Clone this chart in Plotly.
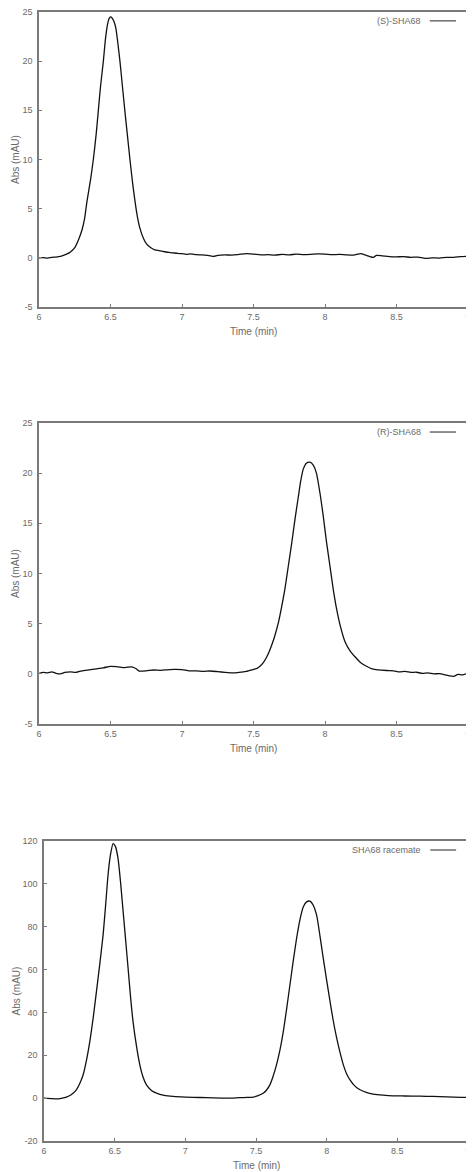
import plotly.graph_objects as go

# ---- data ----
s_time = [6.00, 6.03, 6.06, 6.09, 6.12, 6.15, 6.18, 6.20, 6.22, 6.25, 6.275, 6.30, 6.32, 6.335, 6.36, 6.38,
          6.40, 6.415, 6.43, 6.45, 6.465, 6.48, 6.493, 6.503, 6.515, 6.525, 6.538, 6.55, 6.566, 6.583, 6.60,
          6.618, 6.636, 6.653, 6.671, 6.688, 6.706, 6.73, 6.753, 6.78, 6.81, 6.85, 6.88, 6.91, 6.94, 6.97,
          7.00, 7.03, 7.06, 7.10, 7.13, 7.16, 7.20, 7.22, 7.25, 7.30, 7.35, 7.40, 7.45, 7.50, 7.55, 7.60,
          7.65, 7.70, 7.75, 7.80, 7.85, 7.90, 7.95, 8.00, 8.05, 8.10, 8.15, 8.20, 8.25, 8.28, 8.31, 8.34,
          8.36, 8.40, 8.45, 8.50, 8.55, 8.60, 8.65, 8.70, 8.75, 8.80, 8.85, 8.90, 8.95, 9.00]
s_abs = [0.00, 0.02, -0.02, 0.05, 0.08, 0.15, 0.30, 0.42, 0.60, 1.05, 1.8, 2.8, 4.1, 5.7, 7.9, 10.0,
         12.6, 15.0, 17.4, 20.0, 22.3, 23.8, 24.4, 24.5, 24.3, 24.0, 23.3, 22.0, 20.0, 17.5, 15.0,
         12.5, 10.0, 7.8, 5.8, 4.2, 3.0, 2.0, 1.4, 1.05, 0.8, 0.7, 0.62, 0.55, 0.5, 0.45,
         0.42, 0.35, 0.4, 0.32, 0.3, 0.28, 0.2, 0.15, 0.25, 0.3, 0.28, 0.35, 0.42, 0.38, 0.3, 0.32,
         0.28, 0.35, 0.3, 0.38, 0.32, 0.35, 0.4, 0.38, 0.32, 0.35, 0.3, 0.28, 0.42, 0.3, 0.15, 0.05,
         0.25, 0.2, 0.12, 0.1, 0.12, 0.05, 0.08, -0.05, 0.0, -0.02, 0.05, 0.05, 0.12, 0.15]

r_time = [6.00, 6.03, 6.06, 6.09, 6.12, 6.15, 6.18, 6.22, 6.26, 6.30, 6.35, 6.40, 6.45, 6.50, 6.55, 6.60,
          6.65, 6.68, 6.70, 6.75, 6.80, 6.85, 6.90, 6.95, 7.00, 7.05, 7.10, 7.15, 7.20, 7.25, 7.30, 7.35,
          7.40, 7.45, 7.50, 7.525, 7.545, 7.57, 7.595, 7.615, 7.645, 7.674, 7.697, 7.72, 7.743, 7.767,
          7.79, 7.813, 7.83, 7.848, 7.87, 7.895, 7.918, 7.94, 7.965, 7.988, 8.01, 8.035, 8.058, 8.082,
          8.11, 8.14, 8.175, 8.21, 8.25, 8.29, 8.33, 8.37, 8.43, 8.48, 8.52, 8.56, 8.60, 8.64, 8.68,
          8.72, 8.76, 8.80, 8.84, 8.87, 8.90, 8.93, 8.96, 9.00]
r_abs = [0.05, 0.15, 0.1, 0.2, 0.05, 0.0, 0.15, 0.2, 0.15, 0.3, 0.4, 0.5, 0.6, 0.75, 0.7, 0.62,
         0.7, 0.5, 0.28, 0.3, 0.38, 0.35, 0.4, 0.45, 0.42, 0.3, 0.3, 0.25, 0.28, 0.22, 0.15, 0.1,
         0.15, 0.25, 0.45, 0.55, 0.76, 1.15, 1.75, 2.4, 3.6, 5.1, 6.7, 8.5, 10.7, 13.0,
         15.4, 17.6, 19.2, 20.4, 21.0, 21.1, 20.8, 20.0, 18.0, 15.7, 13.2, 10.7, 8.4, 6.4,
         4.6, 3.2, 2.3, 1.7, 1.1, 0.76, 0.5, 0.4, 0.33, 0.3, 0.2, 0.25, 0.15, 0.16, 0.05,
         0.1, 0.0, 0.02, -0.1, -0.2, -0.25, -0.05, -0.1, 0.05]

rac_time = [6.00, 6.05, 6.10, 6.13, 6.158, 6.19, 6.229, 6.253, 6.277, 6.30, 6.324, 6.348, 6.371, 6.395,
            6.418, 6.436, 6.453, 6.47, 6.489, 6.505, 6.524, 6.542, 6.56, 6.578, 6.595, 6.612, 6.63,
            6.655, 6.678, 6.70, 6.725, 6.76, 6.796, 6.85, 6.914, 7.00, 7.103, 7.20, 7.292, 7.38, 7.44,
            7.48, 7.515, 7.551, 7.575, 7.598, 7.62, 7.645, 7.67, 7.693, 7.717, 7.74, 7.763, 7.787, 7.81,
            7.835, 7.858, 7.882, 7.905, 7.929, 7.952, 7.976, 8.00, 8.024, 8.047, 8.071, 8.095, 8.118,
            8.14, 8.165, 8.20, 8.236, 8.28, 8.33, 8.40, 8.47, 8.55, 8.66, 8.75, 8.85, 8.95, 9.00]
rac_abs = [0.0, -0.2, -0.3, 0.0, 0.5, 1.5, 3.9, 6.8, 10.9, 17.5, 26.4, 37.5, 49.7, 62.8,
           76.1, 90.0, 104.0, 113.5, 118.8, 117.5, 111.8, 100.5, 87.0, 73.5, 60.6, 47.5, 35.7,
           24.0, 15.5, 10.0, 6.2, 3.6, 2.3, 1.3, 0.8, 0.5, 0.3, 0.1, 0.0, 0.2, 0.35,
           0.5, 1.2, 2.3, 3.8, 6.2, 10.0, 15.5, 22.6, 31.0, 41.8, 52.8, 63.8, 74.5, 83.0,
           89.3, 91.6, 91.9, 90.0, 85.4, 76.0, 65.2, 55.0, 45.0, 36.0, 28.0, 21.2, 15.5,
           11.5, 8.5, 5.6, 3.9, 2.7, 1.9, 1.4, 1.1, 1.0, 0.9, 0.8, 0.6, 0.4, 0.3]

series_names = ["(S)-SHA68", "(R)-SHA68", "SHA68 racemate"]
x_ticks = [6, 6.5, 7, 7.5, 8, 8.5, 9]
y_ticks_12 = [-5, 0, 5, 10, 15, 20, 25]
y_ticks_3 = [-20, 0, 20, 40, 60, 80, 100, 120]

# ---- layout geometry (window pixels) ----
# The page body has an 8px default margin, so the figure is drawn 8px in from the
# window's top-left corner; size the figure to end exactly at the window edge.
OFF = 8
W, H = 474 - OFF, 1172 - OFF
panels = [
    dict(x0=39, x1=468, y0=12, y1=307, yr=[-5, 25], yt=y_ticks_12),
    dict(x0=39, x1=468, y0=423, y1=724, yr=[-5, 25], yt=y_ticks_12),
    dict(x0=44, x1=468, y0=841, y1=1141, yr=[-20, 120], yt=y_ticks_3),
]
data = [(s_time, s_abs), (r_time, r_abs), (rac_time, rac_abs)]

GRAY = "#7a7a7a"
TXT = "#6a6a6a"
FONT = "Liberation Sans, Arial, sans-serif"


def clamp(v):
    return max(0.0, min(1.0, v))


fig = go.Figure()
annotations = []
shapes = []
for i, (p, (t, a), name) in enumerate(zip(panels, data, series_names), start=1):
    xa = "x" if i == 1 else f"x{i}"
    ya = "y" if i == 1 else f"y{i}"
    fig.add_trace(go.Scatter(x=t, y=a, mode="lines", name=name, xaxis=xa, yaxis=ya,
                             line=dict(color="#111111", width=1.3, shape="spline", smoothing=0.6),
                             showlegend=False))
    axis_common = dict(showline=True, linecolor=GRAY, linewidth=1.5, mirror=True,
                       ticks="inside", ticklen=3, tickcolor=GRAY, tickwidth=1,
                       showgrid=False, zeroline=False, ticklabeloverflow="allow",
                       tickfont=dict(family=FONT, size=9, color=TXT), automargin=False)
    fig.layout[f"xaxis{i if i > 1 else ''}"] = dict(
        domain=[clamp((p["x0"] - OFF) / W), clamp((p["x1"] - OFF) / W)], anchor=ya, range=[6, 9],
        tickvals=x_ticks, ticktext=[f"{v:g}" for v in x_ticks], **axis_common)
    fig.layout[f"yaxis{i if i > 1 else ''}"] = dict(
        domain=[clamp(1 - (p["y1"] - OFF) / H), clamp(1 - (p["y0"] - OFF) / H)], anchor=xa,
        range=p["yr"], tickvals=p["yt"], ticktext=[str(v) for v in p["yt"]],
        ticklabelstandoff=3, **axis_common)
    xd = f"{xa} domain"
    yd = f"{ya} domain"
    # axis titles
    annotations.append(dict(text="Time (min)", xref=xd, yref=yd, x=0.5, y=0, yanchor="top",
                            yshift=-17, showarrow=False, font=dict(family=FONT, size=10, color=TXT)))
    annotations.append(dict(text="Abs (mAU)", xref="paper", yref=yd, x=0, y=0.5,
                            xanchor="left", yanchor="middle", textangle=-90, showarrow=False,
                            font=dict(family=FONT, size=10, color=TXT)))
    # key (text then line, gnuplot style)
    annotations.append(dict(text=name, xref=xd, yref=yd, x=0.895, y=0.97, xanchor="right",
                            yanchor="middle", showarrow=False,
                            font=dict(family=FONT, size=9, color=TXT)))
    shapes.append(dict(type="line", xref=xd, yref=yd, x0=0.911, x1=0.972, y0=0.97, y1=0.97,
                       line=dict(color="#555555", width=1.3)))

fig.update_layout(width=W, height=H, margin=dict(l=0, r=0, t=0, b=0),
                  paper_bgcolor="white", plot_bgcolor="white",
                  annotations=annotations, shapes=shapes, showlegend=False)
fig.write_html("out.html")
